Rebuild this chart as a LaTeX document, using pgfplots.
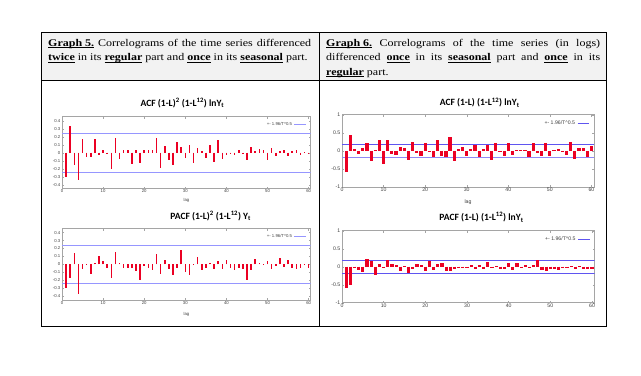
\documentclass[border=0pt]{standalone}
\usepackage{pgfplots}
\pgfplotsset{compat=1.18}
\usepackage{pgfplotstable}
\usepackage{fontspec}
\setmainfont[FakeStretch=1.17]{Liberation Serif}
\newfontfamily\titlefont{Carlito}
\newfontfamily\tickfont{Liberation Sans}
\definecolor{barred}{RGB}{235,0,35}
\definecolor{bandL}{RGB}{150,150,255}
\definecolor{bandR}{RGB}{95,85,240}
\definecolor{headgray}{RGB}{242,242,242}
\definecolor{framec}{RGB}{165,165,165}
\newcommand\ulb[1]{\setbox0\hbox{\textbf{#1}}\rlap{\rule[-1.7bp]{\wd0}{0.6bp}}\box0\relax}

\pgfplotstableread{
lag v
1 -0.30
2 0.33
3 -0.15
4 -0.34
5 0.17
6 -0.05
7 -0.05
8 0.17
9 -0.03
10 0.03
11 -0.02
12 -0.20
13 0.19
14 -0.08
15 0.04
16 0.04
17 -0.14
18 0.04
19 -0.13
20 0.04
21 0.03
22 0.03
23 0.18
24 -0.19
25 0.09
26 -0.09
27 -0.15
28 0.14
29 0.07
30 -0.07
31 0.10
32 -0.13
33 0.06
34 0.02
35 -0.07
36 0.10
37 -0.12
38 0.16
39 -0.08
40 -0.03
41 -0.02
42 -0.03
43 0.03
44 -0.02
45 -0.09
46 0.07
47 0.02
48 0.05
49 0.03
50 -0.09
51 0.06
52 -0.04
53 0.02
54 0.03
55 -0.04
56 0.02
57 0.03
58 -0.03
59 0.01
60 -0.02
}\acfL

\pgfplotstableread{
lag v
1 -0.30
2 -0.17
3 0.14
4 -0.37
5 -0.06
6 -0.01
7 -0.12
8 0.02
9 0.11
10 0.04
11 -0.05
12 -0.17
13 0.15
14 0.02
15 -0.05
16 -0.05
17 -0.05
18 -0.09
19 -0.20
20 -0.02
21 -0.05
22 -0.07
23 0.13
24 -0.12
25 0.05
26 -0.06
27 -0.14
28 -0.04
29 0.18
30 -0.10
31 -0.13
32 -0.01
33 0.09
34 -0.07
35 -0.04
36 0.02
37 -0.06
38 0.04
39 -0.06
40 0.06
41 -0.05
42 -0.07
43 -0.05
44 -0.06
45 -0.20
46 -0.07
47 0.07
48 0.02
49 -0.01
50 0.04
51 -0.06
52 -0.02
53 0.08
54 -0.03
55 0.05
56 -0.05
57 -0.06
58 -0.04
59 -0.01
60 -0.05
}\pacfL

\pgfplotstableread{
lag v
1 -0.58
2 0.45
3 0.06
4 -0.08
5 0.07
6 0.23
7 -0.27
8 0.02
9 0.31
10 -0.37
11 0.31
12 -0.09
13 -0.12
14 0.12
15 0.08
16 -0.25
17 0.25
18 -0.07
19 -0.15
20 0.23
21 -0.03
22 -0.17
23 0.30
24 -0.14
25 -0.17
26 0.38
27 -0.27
28 0.06
29 0.11
30 -0.15
31 0.05
32 0.15
33 -0.17
34 0.04
35 0.15
36 -0.26
37 0.23
38 -0.03
39 -0.15
40 0.23
41 -0.12
42 0.01
43 0.01
44 0.03
45 -0.17
46 0.22
47 -0.07
48 -0.13
49 0.23
50 -0.13
51 0.01
52 0.05
53 -0.03
54 -0.11
55 0.25
56 -0.23
57 0.07
58 0.07
59 -0.17
60 0.13
}\acfR

\pgfplotstableread{
lag v
1 -0.58
2 -0.50
3 -0.03
4 -0.08
5 -0.15
6 0.22
7 0.15
8 -0.23
9 0.07
10 -0.02
11 0.18
12 0.07
13 0.05
14 -0.11
15 0.01
16 -0.17
17 -0.05
18 0.07
19 0.05
20 -0.11
21 0.17
22 -0.10
23 0.08
24 0.09
25 -0.12
26 -0.13
27 -0.05
28 -0.01
29 -0.03
30 -0.04
31 0.04
32 -0.07
33 0.06
34 -0.06
35 0.12
36 -0.02
37 0.03
38 -0.05
39 -0.05
40 0.09
41 -0.10
42 0.10
43 -0.02
44 0.06
45 -0.01
46 0.05
47 0.18
48 -0.10
49 -0.11
50 -0.06
51 -0.06
52 -0.08
53 -0.01
54 -0.01
55 0.01
56 -0.05
57 0.03
58 -0.06
59 -0.07
60 -0.05
}\pacfR

\pgfplotsset{
 corr/.style={
  scale only axis,
  anchor=north west,
  xmin=0,
  xtick={0,10,20,30,40,50,60},
  tick align=inside,
  major tick length=2bp,
  axis line style={draw=framec, line width=0.5bp},
  every tick/.style={draw=framec, line width=0.4bp},
  /pgf/number format/assume math mode=true,
  tick label style={text=black!75},
  xticklabel style={inner sep=1bp},
  yticklabel style={inner sep=1.5bp},
  legend style={draw=none, fill=none, text=black!75, at={(axis description cs:0.985,0.95)}, anchor=north east, inner sep=0pt, row sep=0pt},
  legend plot pos=right,
  legend image post style={xscale=0.7},
 },
 corrL/.style={corr,
  xmax=60.5, ymin=-0.45, ymax=0.45,
  ytick={-0.4,-0.3,-0.2,-0.1,0,0.1,0.2,0.3,0.4},
  tick label style={font=\tickfont\fontsize{4.3}{5}\selectfont},
  legend style={font=\tickfont\fontsize{4.3}{5}\selectfont},
 },
 corrR/.style={corr,
  xmax=60.6, ymin=-1, ymax=1,
  ytick={-1,-0.5,0,0.5,1},
  tick label style={font=\tickfont\fontsize{5.2}{6}\selectfont},
  legend style={font=\tickfont\fontsize{5.2}{6}\selectfont},
 },
}

\begin{document}
\begin{tikzpicture}
\fill[white] (0bp,0bp) rectangle (641bp,-376bp);
% table
\fill[headgray] (41bp,-32.7bp) rectangle (606bp,-80.7bp);
\draw[line width=0.8bp] (41bp,-32.7bp) rectangle (606bp,-326bp);
\draw[line width=0.8bp] (41bp,-80.7bp) -- (606bp,-80.7bp);
\draw[line width=0.8bp] (319.3bp,-32.7bp) -- (319.3bp,-326bp);
% header texts
\begin{scope}[every node/.style={anchor=base west, inner sep=0pt, font=\fontsize{10.3}{12}\selectfont}]
\node at (48bp,-46bp) {\makebox[263bp][s]{\ulb{Graph 5.} Correlograms of the time series differenced}};
\node at (48bp,-60.7bp) {\ulb{twice} in its \ulb{regular} part and \ulb{once} in its \ulb{seasonal} part.};
\node at (326bp,-46bp) {\makebox[274bp][s]{\ulb{Graph 6.} Correlograms of the time series (in logs)}};
\node at (326bp,-60.7bp) {\makebox[274bp][s]{differenced \ulb{once} in its \ulb{seasonal} part and \ulb{once} in its}};
\node at (326bp,-75.3bp) {\ulb{regular} part.};
\end{scope}
% chart titles
\begin{scope}[every node/.style={inner sep=0pt, font=\titlefont\bfseries\fontsize{9.6}{11}\selectfont}]
\node at (182.5bp,-103bp) {ACF (1-L)\textsuperscript{2} (1-L\textsuperscript{12}) lnY\textsubscript{t}};
\node at (210.7bp,-216bp) {PACF (1-L)\textsuperscript{2} (1-L\textsuperscript{12}) Y\textsubscript{t}};
\node at (479.7bp,-102.7bp) {ACF (1-L) (1-L\textsuperscript{12}) lnY\textsubscript{t}};
\node at (481.5bp,-217.3bp) {PACF (1-L) (1-L\textsuperscript{12}) lnY\textsubscript{t}};
\end{scope}
% lag labels
\node[inner sep=0pt, text=black!75, font=\tickfont\fontsize{4.3}{5}\selectfont] at (186.5bp,-200bp) {lag};
\node[inner sep=0pt, text=black!75, font=\tickfont\fontsize{4.3}{5}\selectfont] at (186.5bp,-314bp) {lag};
\node[inner sep=0pt, text=black!75, font=\tickfont\fontsize{5.2}{6}\selectfont] at (468bp,-201.7bp) {lag};

% Left ACF
\begin{axis}[corrL, at={(62bp,-116.7bp)}, width=248.7bp, height=72bp]
\addplot[bandL, line width=0.8bp] coordinates {(0,0.24) (60.5,0.24)};
\addlegendentry{+- 1.96/T\textasciicircum 0.5}
\addplot[bandL, line width=0.8bp, forget plot] coordinates {(0,-0.24) (60.5,-0.24)};
\addplot[ycomb, barred, line width=1.6bp, forget plot] table[x=lag, y=v] {\acfL};
\end{axis}

% Left PACF
\begin{axis}[corrL, at={(62bp,-228.7bp)}, width=248.7bp, height=71.3bp]
\addplot[bandL, line width=0.8bp] coordinates {(0,0.245) (60.5,0.245)};
\addlegendentry{+- 1.96/T\textasciicircum 0.5}
\addplot[bandL, line width=0.8bp, forget plot] coordinates {(0,-0.245) (60.5,-0.245)};
\addplot[ycomb, barred, line width=1.6bp, forget plot] table[x=lag, y=v] {\pacfL};
\end{axis}

% Right ACF
\begin{axis}[corrR, at={(342bp,-114.7bp)}, width=251.9bp, height=72.3bp]
\addplot[bandR, line width=1bp] coordinates {(0,0.175) (60.6,0.175)};
\addlegendentry{+- 1.96/T\textasciicircum 0.5}
\addplot[bandR!70, line width=1bp, forget plot] coordinates {(0,-0.175) (60.6,-0.175)};
\addplot[ycomb, barred, line width=3.2bp, forget plot] table[x=lag, y=v] {\acfR};
\end{axis}

% Right PACF
\begin{axis}[corrR, at={(342bp,-230.7bp)}, width=252.5bp, height=72bp]
\addplot[bandR, line width=1bp] coordinates {(0,0.17) (60.6,0.17)};
\addlegendentry{+- 1.96/T\textasciicircum 0.5}
\addplot[bandR, line width=1bp, forget plot] coordinates {(0,-0.175) (60.6,-0.175)};
\addplot[ycomb, barred, line width=3.2bp, forget plot] table[x=lag, y=v] {\pacfR};
\end{axis}
\end{tikzpicture}
\end{document}
